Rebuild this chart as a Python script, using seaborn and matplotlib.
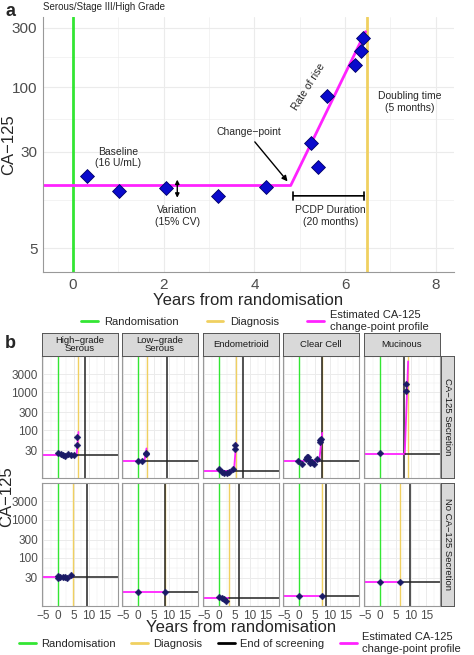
import matplotlib.pyplot as plt
import numpy as np
import seaborn as sns
from matplotlib.lines import Line2D

W, H = 474, 655

# ---- panel a data ----
A_X = [0.31, 1.02, 2.06, 3.2, 4.25, 5.24, 5.4, 5.6, 6.21, 6.34, 6.39]
A_Y = [19.2, 14.5, 15.4, 13.2, 15.7, 35.4, 22.7, 85, 151, 195, 251]
A_PROFILE_X = [-0.66, 4.8, 6.45]
A_PROFILE_Y = [16, 16, 280]
A_RANDOMISATION = 0.0
A_DIAGNOSIS = 6.48

# ---- panel b data ----
HISTOLOGY = ["High\u2212grade\nSerous", "Low\u2212grade\nSerous", "Endometrioid", "Clear Cell", "Mucinous"]
ROWS = ["CA\u2212125 Secretion", "No CA\u2212125 Secretion"]

SEC_X = [
    [0, 0.83, 1.46, 2.2, 3.1, 4.2, 5.1, 6.2, 6.2],
    [0, 1.25, 2.4, 2.4],
    [0, 0.94, 1.67, 2.4, 3.2, 4.5, 5.3, 5.3],
    [-0.3, 0.94, 2.1, 2.5, 2.9, 3.1, 3.5, 4.1, 4.9, 5.9, 6.7, 6.9, 7.0],
    [0, 8.4, 8.4],
]
SEC_Y = [
    [25, 23.5, 22.2, 20.8, 23.5, 22.7, 22.7, 40.6, 64.6],
    [15.4, 15.4, 24, 25.5],
    [9.3, 8.0, 7.5, 7.6, 8.1, 9.5, 32.5, 39.5],
    [15, 13, 17.8, 19.7, 19.3, 16, 14, 14.6, 13, 17.5, 48, 55, 60],
    [24.5, 1660, 1050],
]
SEC_BASE = [22.7, 15.4, 8.5, 15, 23]
SEC_CP = [6.0, 2.0, 4.8, 6.5, 8.0]
SEC_END_X = [6.6, 2.7, 5.5, 7.5, 9.1]
SEC_END_Y = [90, 33, 45, 85, 6500]
SEC_DIAG = [6.6, 2.7, 5.4, 7.4, 8.96]
SEC_SCREEN = [8.85, 9.25, 7.9, 7.5, 7.7]

NON_X = [
    [0, 0, 0.6, 1.46, 2.2, 3.0, 4.2],
    [0, 8.85],
    [0, 0.83, 1.56, 2.3],
    [0, 7.4],
    [0, 6.35],
]
NON_Y = [
    [30, 33, 31, 32, 32, 29.6, 36.5],
    [12.6, 12.9],
    [9.5, 8.9, 8.4, 7.3],
    [10, 10],
    [23.5, 23.5],
]
NON_BASE = [31, 12.8, 8.9, 10, 23.5]
NON_DIAG = [4.8, 8.65, 3.1, 7.4, 6.6]
NON_SCREEN = [9.5, 8.75, 6.35, 8.85, 9.8]

GREEN = "#33e633"
YELLOW = "#f0d060"
MAGENTA = "#ff22ff"
GRIDC = "#ebebeb"

sns.set_style("white")
plt.rcParams["font.family"] = ["Liberation Sans", "DejaVu Sans"]

fig = plt.figure(figsize=(W / 100, H / 100), dpi=100)


def rect(x0, y0, x1, y1):
    return [x0 / W, 1 - y1 / H, (x1 - x0) / W, (y1 - y0) / H]


def log_minor(ticks):
    return [np.sqrt(a * b) for a, b in zip(ticks[:-1], ticks[1:])]


# ---------------- panel a ----------------
ax = fig.add_axes(rect(43, 17, 454, 272))
ax.set_yscale("log")
ax.set_xlim(-0.66, 8.4)
ax.set_ylim(3.2, 368)
yt = [5, 30, 100, 300]
ax.set_yticks(yt)
ax.set_yticklabels([str(v) for v in yt], fontsize=11, color="#4d4d4d")
ax.set_yticks(log_minor(yt), minor=True)
ax.set_xticks([0, 2, 4, 6, 8])
ax.set_xticks([1, 3, 5, 7], minor=True)
ax.tick_params(axis="both", length=2, color="#999999", pad=2)
ax.tick_params(axis="x", labelsize=11, labelcolor="#4d4d4d")
ax.yaxis.set_minor_formatter(plt.NullFormatter())
ax.grid(True, which="major", color=GRIDC, lw=0.8)
ax.grid(True, which="minor", color=GRIDC, lw=0.4)
ax.set_axisbelow(True)
for s in ["top", "right"]:
    ax.spines[s].set_visible(False)
for s in ["left", "bottom"]:
    ax.spines[s].set_color("#999999")
ax.axvline(A_RANDOMISATION, color=GREEN, lw=2)
ax.axvline(A_DIAGNOSIS, color=YELLOW, lw=2)
ax.plot(A_PROFILE_X, A_PROFILE_Y, color=MAGENTA, lw=2)
sns.scatterplot(x=A_X, y=A_Y, ax=ax, marker="D", s=50, color="#0a0acc",
                edgecolor="#000066", linewidth=0.6, zorder=5, legend=False)
fs = 7.5
ax.text(1.0, 27, "Baseline\n(16 U/mL)", ha="center", va="center", fontsize=fs)
ax.annotate("", xy=(2.3, 12.1), xytext=(2.3, 18.8),
            arrowprops=dict(arrowstyle="<|-|>", color="black", lw=1, mutation_scale=6))
ax.text(2.3, 9.1, "Variation\n(15% CV)", ha="center", va="center", fontsize=fs)
ax.text(3.88, 43, "Change\u2212point", ha="center", va="center", fontsize=fs)
ax.annotate("", xy=(4.77, 16.6), xytext=(3.97, 37.5),
            arrowprops=dict(arrowstyle="-|>", color="black", lw=1, mutation_scale=8))
ax.annotate("", xy=(4.8, 13.2), xytext=(6.48, 13.2),
            arrowprops=dict(arrowstyle="|-|", color="black", lw=1.2, mutation_scale=3))
ax.text(5.68, 9.1, "PCDP Duration\n(20 months)", ha="center", va="center", fontsize=fs)
ax.text(5.2, 100, "Rate of rise", ha="center", va="center", fontsize=fs, rotation=58)
ax.text(7.42, 76, "Doubling time\n(5 months)", ha="center", va="center", fontsize=fs)
ax.set_xlabel("Years from randomisation", fontsize=12, labelpad=1)
fig.text(9 / W, 1 - 145 / H, "CA\u2212125", fontsize=12, rotation=90, ha="center", va="center")
fig.text(43 / W, 1 - 7 / H, "Serous/Stage III/High Grade", fontsize=7, va="center")
fig.text(5 / W, 1 - 11 / H, "a", fontsize=13, fontweight="bold", va="center")

h_a = [Line2D([], [], color=GREEN, lw=2), Line2D([], [], color=YELLOW, lw=2),
       Line2D([], [], color=MAGENTA, lw=2)]
fig.legend(h_a, ["Randomisation", "Diagnosis", "Estimated CA-125\nchange-point profile"],
           loc="center", bbox_to_anchor=(255 / W, 1 - 321 / H), ncol=3, frameon=False,
           fontsize=8, handlelength=1.5, columnspacing=2.5, handletextpad=0.6,
           labelspacing=0.2)

# ---------------- panel b ----------------
fig.text(5 / W, 1 - 344 / H, "b", fontsize=13, fontweight="bold", va="center")
col_x = [(42, 118), (122, 198), (203, 279), (283, 359), (364, 440)]
row_y = [(356, 478), (483, 606)]
byt = [30, 100, 300, 1000, 3000]
for r in range(2):
    for c in range(5):
        x0, x1 = col_x[c]
        y0, y1 = row_y[r]
        bx = fig.add_axes(rect(x0, y0, x1, y1))
        bx.set_yscale("log")
        bx.set_xlim(-5.3, 19.5)
        bx.set_ylim(5.5, 9000)
        bx.set_yticks(byt)
        bx.set_yticks(log_minor(byt), minor=True)
        bx.yaxis.set_minor_formatter(plt.NullFormatter())
        bx.set_xticks([-5, 0, 5, 10, 15])
        bx.set_xticks([-2.5, 2.5, 7.5, 12.5, 17.5], minor=True)
        bx.grid(True, which="major", color=GRIDC, lw=0.7)
        bx.grid(True, which="minor", color=GRIDC, lw=0.35)
        bx.set_axisbelow(True)
        for s in bx.spines.values():
            s.set_color("#999999")
            s.set_linewidth(0.8)
        bx.tick_params(which="both", length=2, color="#999999", labelsize=8.5,
                       labelcolor="#4d4d4d", pad=1)
        bx.tick_params(which="minor", length=0)
        if c == 0:
            bx.set_yticklabels([str(v) for v in byt])
        else:
            bx.set_yticklabels([])
        if r == 1:
            bx.set_xticklabels(["\u22125", "0", "5", "10", "15"])
        else:
            bx.set_xticklabels([])
        bx.axvline(0, color=GREEN, lw=1)
        if r == 0:
            diag, scr, base = SEC_DIAG[c], SEC_SCREEN[c], SEC_BASE[c]
            bx.axvline(diag, color=YELLOW, lw=1)
            bx.axvline(scr, color="#222222", lw=1.1)
            bx.plot([-5.3, SEC_CP[c]], [base, base], color=MAGENTA, lw=1.3)
            bx.plot([SEC_CP[c], SEC_END_X[c]], [base, SEC_END_Y[c]], color=MAGENTA, lw=1.3)
            bx.plot([SEC_CP[c], 19.5], [base, base], color="#222222", lw=1.1)
            px, py = SEC_X[c], SEC_Y[c]
        else:
            diag, scr, base = NON_DIAG[c], NON_SCREEN[c], NON_BASE[c]
            bx.axvline(diag, color=YELLOW, lw=1)
            bx.axvline(scr, color="#222222", lw=1.1)
            bx.plot([-5.3, diag], [base, base], color=MAGENTA, lw=1.3)
            bx.plot([diag, 19.5], [base, base], color="#222222", lw=1.1)
            px, py = NON_X[c], NON_Y[c]
        sns.scatterplot(x=px, y=py, ax=bx, marker="D", s=12, color="#1a1a66",
                        edgecolor="#1a1a66", linewidth=0.3, zorder=5, legend=False)
        bx.set_xlabel("")
        bx.set_ylabel("")
        if r == 0:
            sx = fig.add_axes(rect(x0, 333, x1, 356))
            sx.set_facecolor("#d9d9d9")
            sx.set_xticks([])
            sx.set_yticks([])
            for s in sx.spines.values():
                s.set_color("#555555")
                s.set_linewidth(0.7)
            sx.text(0.5, 0.5, HISTOLOGY[c], ha="center", va="center", fontsize=6.8,
                    color="#1a1a1a", linespacing=0.95, transform=sx.transAxes)
        if c == 4:
            sy = fig.add_axes(rect(441, y0, 454, y1))
            sy.set_facecolor("#d9d9d9")
            sy.set_xticks([])
            sy.set_yticks([])
            for s in sy.spines.values():
                s.set_color("#555555")
                s.set_linewidth(0.7)
            sy.text(0.5, 0.5, ROWS[r], ha="center", va="center", fontsize=6.8,
                    rotation=-90, color="#1a1a1a", transform=sy.transAxes)

fig.text(241 / W, 1 - 627 / H, "Years from randomisation", fontsize=12, ha="center", va="center")
fig.text(7 / W, 1 - 497 / H, "CA\u2212125", fontsize=12, rotation=90, ha="center", va="center")
h_b = [Line2D([], [], color=GREEN, lw=2), Line2D([], [], color=YELLOW, lw=2),
       Line2D([], [], color="black", lw=2), Line2D([], [], color=MAGENTA, lw=2)]
fig.legend(h_b, ["Randomisation", "Diagnosis", "End of screening",
                 "Estimated CA-125\nchange-point profile"],
           loc="center", bbox_to_anchor=(240 / W, 1 - 643 / H), ncol=4, frameon=False,
           fontsize=8, handlelength=1.5, columnspacing=1.4, handletextpad=0.5,
           labelspacing=0.2)

fig.savefig("out.png", dpi=100)
